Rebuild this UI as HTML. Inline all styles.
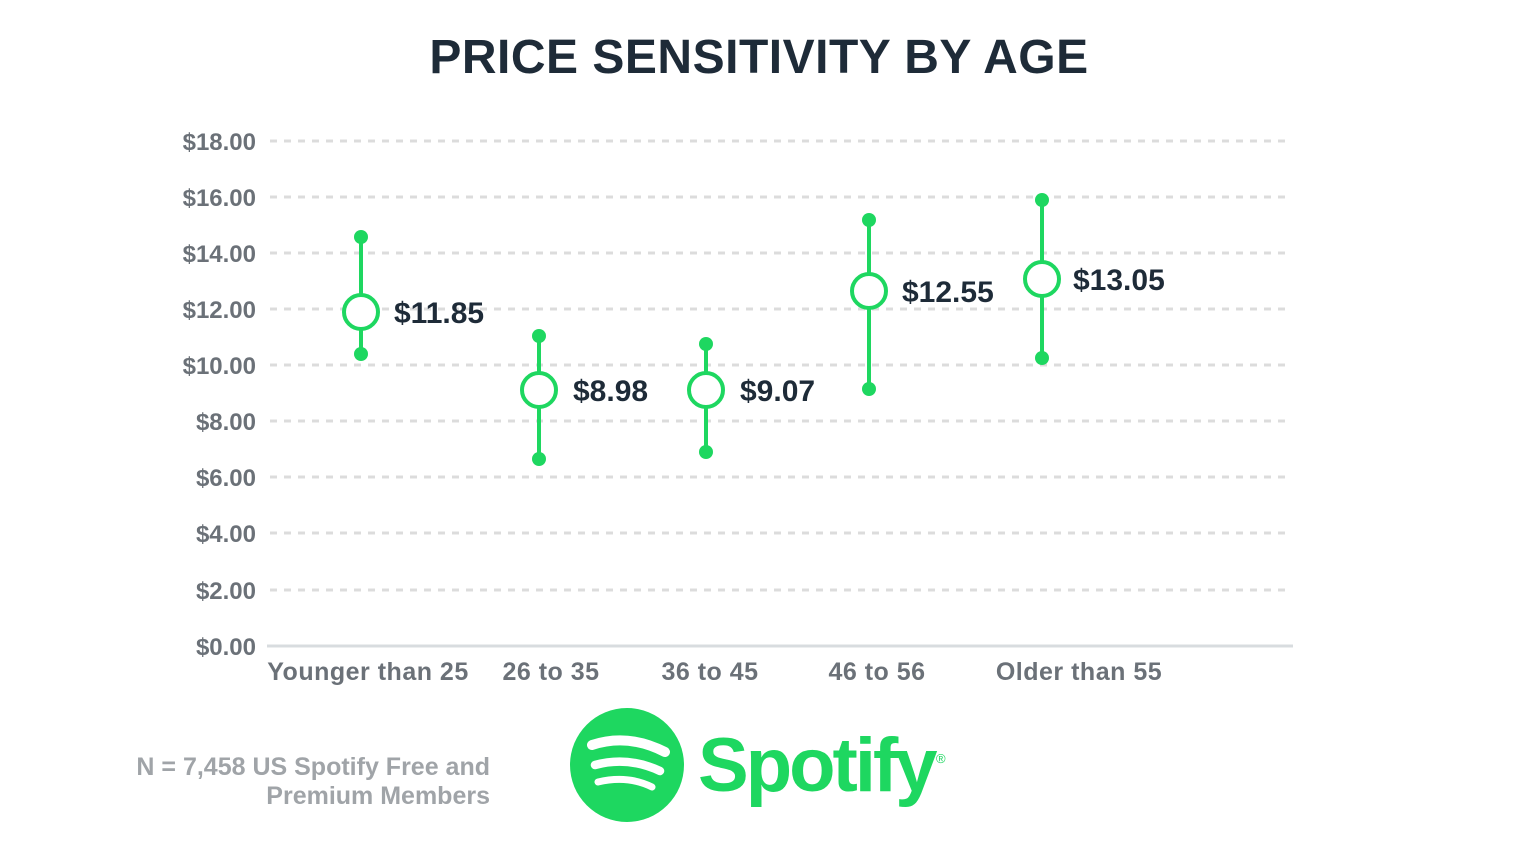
<!DOCTYPE html>
<html><head><meta charset="utf-8"><style>
html,body{margin:0;padding:0;background:#fff;}
svg{display:block;}
</style></head><body>
<svg width="1518" height="853" viewBox="0 0 1518 853" xmlns="http://www.w3.org/2000/svg" font-family="Liberation Sans, sans-serif">
<rect width="1518" height="853" fill="#fff"/>
<text x="759" y="73" text-anchor="middle" font-size="48" font-weight="bold" fill="#1e2b38" letter-spacing="0.5">PRICE SENSITIVITY BY AGE</text>
<g stroke="#dcdcdc" stroke-width="3" stroke-dasharray="7,7">
<line x1="270" x2="1292" y1="141" y2="141"/>
<line x1="270" x2="1292" y1="197" y2="197"/>
<line x1="270" x2="1292" y1="253" y2="253"/>
<line x1="270" x2="1292" y1="309" y2="309"/>
<line x1="270" x2="1292" y1="365" y2="365"/>
<line x1="270" x2="1292" y1="421" y2="421"/>
<line x1="270" x2="1292" y1="477" y2="477"/>
<line x1="270" x2="1292" y1="533" y2="533"/>
<line x1="270" x2="1292" y1="590" y2="590"/>
</g>
<line x1="267" x2="1293" y1="646" y2="646" stroke="#d8dcdf" stroke-width="3"/>
<g font-size="24" font-weight="bold" fill="#6b7178" text-anchor="end">
<text x="256" y="150">$18.00</text>
<text x="256" y="206">$16.00</text>
<text x="256" y="262">$14.00</text>
<text x="256" y="318">$12.00</text>
<text x="256" y="374">$10.00</text>
<text x="256" y="430">$8.00</text>
<text x="256" y="486">$6.00</text>
<text x="256" y="542">$4.00</text>
<text x="256" y="599">$2.00</text>
<text x="256" y="655">$0.00</text>
</g>
<g font-size="25" font-weight="bold" fill="#6b7178" text-anchor="middle" letter-spacing="0.5">
<text x="368" y="680">Younger than 25</text>
<text x="551" y="680">26 to 35</text>
<text x="710" y="680">36 to 45</text>
<text x="877" y="680">46 to 56</text>
<text x="1079" y="680">Older than 55</text>
</g>
<g stroke="#1ed760" stroke-width="4" fill="#1ed760">
<line x1="361" x2="361" y1="237" y2="354"/><circle cx="361" cy="237" r="7" stroke="none"/><circle cx="361" cy="354" r="7" stroke="none"/><circle cx="361" cy="312" r="17" fill="#fff"/>
<line x1="539" x2="539" y1="336" y2="459"/><circle cx="539" cy="336" r="7" stroke="none"/><circle cx="539" cy="459" r="7" stroke="none"/><circle cx="539" cy="390" r="17" fill="#fff"/>
<line x1="706" x2="706" y1="344" y2="452"/><circle cx="706" cy="344" r="7" stroke="none"/><circle cx="706" cy="452" r="7" stroke="none"/><circle cx="706" cy="390" r="17" fill="#fff"/>
<line x1="869" x2="869" y1="220" y2="389"/><circle cx="869" cy="220" r="7" stroke="none"/><circle cx="869" cy="389" r="7" stroke="none"/><circle cx="869" cy="291" r="17" fill="#fff"/>
<line x1="1042" x2="1042" y1="200" y2="358"/><circle cx="1042" cy="200" r="7" stroke="none"/><circle cx="1042" cy="358" r="7" stroke="none"/><circle cx="1042" cy="279" r="17" fill="#fff"/>
</g>
<g font-size="30" font-weight="bold" fill="#1e2b38">
<text x="394" y="323">$11.85</text>
<text x="573" y="401">$8.98</text>
<text x="740" y="401">$9.07</text>
<text x="902" y="302">$12.55</text>
<text x="1073" y="290">$13.05</text>
</g>
<g font-size="25" font-weight="bold" fill="#a0a4a8" text-anchor="end">
<text x="490" y="775">N = 7,458 US Spotify Free and</text>
<text x="490" y="804">Premium Members</text>
</g>
<circle cx="627" cy="765" r="57" fill="#1ed760"/>
<g stroke="#fff" stroke-linecap="round" fill="none">
<path d="M592 745 Q628 733 665 752" stroke-width="10"/>
<path d="M595 765 Q628 756 660 771" stroke-width="8.5"/>
<path d="M598 782 Q628 775 652 787" stroke-width="7"/>
</g>
<text x="698" y="791" font-size="76" font-weight="bold" fill="#1ed760" letter-spacing="-3">Spotify</text>
<text x="936" y="763" font-size="13" fill="#1ed760">®</text>
</svg>
</body></html>
